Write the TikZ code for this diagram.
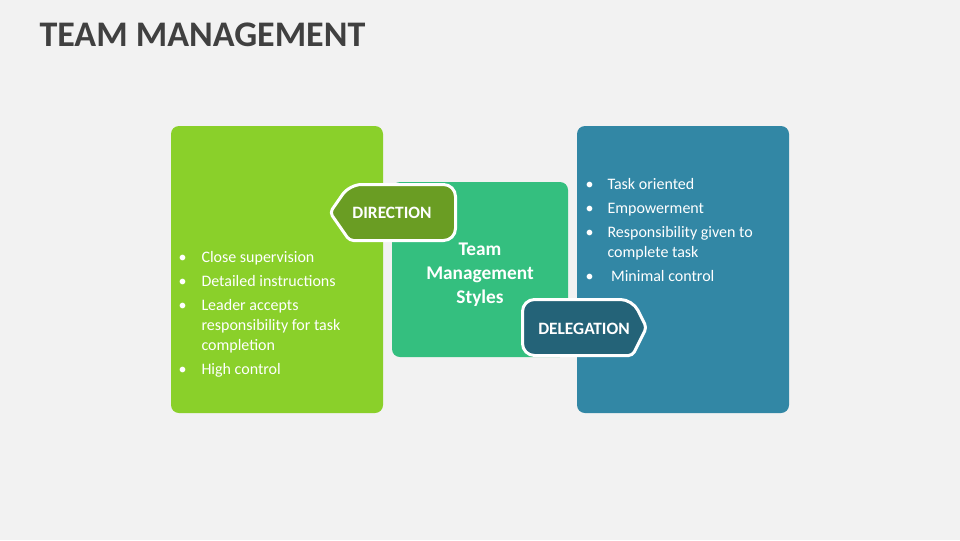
\documentclass[tikz,border=0pt]{standalone}
\usepackage{fontspec}
\setmainfont{Carlito}

\tikzset{every picture/.style={line width=0.75pt}}
\tikzset{
  itemtext/.style={anchor=base west, inner sep=0pt, text=white, font=\fontsize{12}{15}\selectfont},
  tagtext/.style={inner sep=0pt, text=white, font=\bfseries\fontsize{13}{15}\selectfont},
  tagshape/.style={draw=white, line width=2.25pt},
}

\begin{document}
\begin{tikzpicture}[x=0.75pt,y=0.75pt,yscale=-1,xscale=1]
%Background
\fill [color={rgb, 255:red, 242; green, 242; blue, 242 }] (0,0) rectangle (960,540);
\useasboundingbox (0,0) rectangle (960,540);

%Shape: Rounded Rectangle, left panel
\fill [fill={rgb, 255:red, 138; green, 208; blue, 42 }, rounded corners=6] (171,126) rectangle (383,413);
%Shape: Rounded Rectangle, right panel
\fill [fill={rgb, 255:red, 50; green, 135; blue, 165 }, rounded corners=6] (577,126) rectangle (789,413);
%Shape: Rounded Rectangle, middle panel
\fill [fill={rgb, 255:red, 52; green, 191; blue, 127 }, rounded corners=6] (392,182) rectangle (568,357);

%Shape: Pentagon, pointing left
\draw [tagshape, fill={rgb, 255:red, 106; green, 157; blue, 35 }] (455.5,212.5) [rounded corners=9] -- (455.5,184.5) -- (349.5,184.5) [rounded corners=3] -- (330,212.5) -- (349.5,240.5) [rounded corners=9] -- (455.5,240.5) -- cycle ;
%Shape: Pentagon, pointing right
\draw [tagshape, fill={rgb, 255:red, 36; green, 99; blue, 120 }] (522.5,327.5) [rounded corners=9] -- (522.5,299.5) -- (632.5,299.5) [rounded corners=3] -- (646.5,327.5) -- (632.5,355.5) [rounded corners=9] -- (522.5,355.5) -- cycle ;

% Text Node
\node (title) [anchor=base west, inner sep=0pt, text={rgb, 255:red, 64; green, 64; blue, 64 }, font=\bfseries\fontsize{27}{32}\selectfont] at (39,46) {TEAM MANAGEMENT};
% Text Node
\node (direction) [tagtext] at (392,213) {DIRECTION};
% Text Node
\node (delegation) [tagtext] at (584,329) {DELEGATION};
% Text Node
\node (styles) [inner sep=0pt, align=center, text=white, font=\bfseries\fontsize{14.5}{18}\selectfont] at (480,275) {Team\\Management\\Styles};

% Text Node, left list
\node (lb1) [itemtext] at (178,262) {\textbullet};
\node (l1) [itemtext] at (201,262) {Close supervision};
\node (lb2) [itemtext] at (178,286) {\textbullet};
\node (l2) [itemtext] at (201,286) {Detailed instructions};
\node (lb3) [itemtext] at (178,310) {\textbullet};
\node (l3a) [itemtext] at (201,310) {Leader accepts};
\node (l3b) [itemtext] at (201,330) {responsibility for task};
\node (l3c) [itemtext] at (201,350) {completion};
\node (lb4) [itemtext] at (178,374) {\textbullet};
\node (l4) [itemtext] at (201,374) {High control};

% Text Node, right list
\node (rb1) [itemtext] at (585,189) {\textbullet};
\node (r1) [itemtext] at (607,189) {Task oriented};
\node (rb2) [itemtext] at (585,213) {\textbullet};
\node (r2) [itemtext] at (607,213) {Empowerment};
\node (rb3) [itemtext] at (585,237) {\textbullet};
\node (r3a) [itemtext] at (607,237) {Responsibility given to};
\node (r3b) [itemtext] at (607,257) {complete task};
\node (rb4) [itemtext] at (585,281) {\textbullet};
\node (r4) [itemtext] at (607,281) {\ Minimal control};

\end{tikzpicture}
\end{document}
